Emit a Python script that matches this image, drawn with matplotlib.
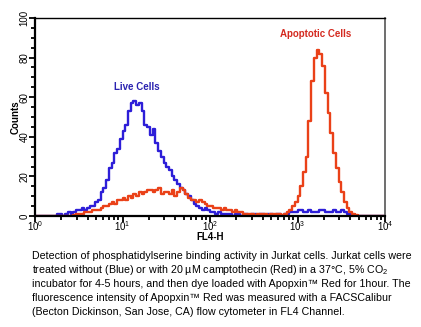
import numpy as np
import matplotlib
matplotlib.use('Agg')
import matplotlib.pyplot as plt
from matplotlib.ticker import LogLocator, MultipleLocator

plt.rcParams['font.family'] = ['Liberation Sans', 'DejaVu Sans']
plt.rcParams['mathtext.fontset'] = 'custom'
plt.rcParams['mathtext.rm'] = 'Liberation Sans'
plt.rcParams['mathtext.it'] = 'Liberation Sans'
plt.rcParams['mathtext.bf'] = 'Liberation Sans:bold'

# FL4-H histogram, 32 channels per decade from 10^0 to 10^4
live_counts = [
    0, 0, 0, 0, 0, 0, 0, 0, 1, 1, 0, 1, 2, 1, 2, 3,
    3, 4, 3, 4, 5, 5, 7, 8, 12, 14, 18, 24, 27, 32, 34, 39,
    43, 46, 53, 57, 58, 56, 57, 53, 46, 45, 41, 44, 37, 33, 30, 27,
    25, 23, 20, 18, 16, 14, 13, 11, 10, 8, 6, 5, 4, 3, 4, 3,
    2, 2, 1, 2, 1, 1, 1, 1, 0, 1, 1, 0, 1, 1, 0, 1,
    1, 0, 1, 1, 0, 1, 1, 0, 1, 1, 0, 1, 1, 2, 2, 2,
    3, 3, 2, 2, 3, 2, 2, 2, 3, 3, 2, 2, 2, 3, 2, 2,
    3, 2, 1, 1, 0, 0, 0, 0, 0, 0, 0, 0, 0, 0, 0, 0,
]
apoptotic_counts = [
    0, 0, 0, 0, 0, 0, 0, 0, 0, 0, 0, 0, 0, 0, 0.5, 1,
    1, 1, 2, 2, 2, 3, 3, 3, 4, 5, 5, 6, 7, 6, 8, 8,
    9, 8, 10, 9, 11, 10, 12, 11, 12, 13, 13, 12, 13, 14, 11, 12,
    12, 11, 13, 10, 12, 14, 13, 11, 9, 8, 8, 7, 8, 7, 6, 5,
    5, 4, 4, 4, 3, 4, 3, 3, 2, 3, 2, 2, 1, 1, 1, 1,
    0.5, 1, 1, 1, 1, 0.5, 1, 1, 1, 1, 0.5, 1, 2, 3, 5, 7,
    10, 15, 22, 30, 48, 68, 80, 84, 82, 76, 62, 52, 42, 32, 24, 17,
    12, 7, 4, 2, 1, 0.5, 0, 0, 0, 0, 0, 0, 0, 0, 0, 0,
]
edges = np.logspace(0, 4, len(live_counts) + 1)
centers = np.sqrt(edges[:-1] * edges[1:])

caption = [
    "Detection of phosphatidylserine binding activity in Jurkat cells. Jurkat cells were",
    "treated without (Blue) or with 20 \u00b5M camptothecin (Red) in a 37\u00b0C, 5% CO$_2$",
    "incubator for 4-5 hours, and then dye loaded with Apopxin\u2122 Red for 1hour. The",
    "fluorescence intensity of Apopxin\u2122 Red was measured with a FACSCalibur",
    "(Becton Dickinson, San Jose, CA) flow cytometer in FL4 Channel.",
]

fig = plt.figure(figsize=(4.21, 3.27), dpi=100)
ax = fig.add_axes([35 / 421, 111 / 327, 350 / 421, 198 / 327])

ax.plot(centers, live_counts, color='#2d1ed8', lw=1.7, drawstyle='steps-mid')
ax.plot(centers, apoptotic_counts, color='#ea4118', lw=1.7, drawstyle='steps-mid')

ax.set_xscale('log')
ax.set_xlim(1, 1e4)
ax.set_ylim(0, 100)

ax.xaxis.set_minor_locator(LogLocator(base=10, subs=np.arange(2, 10), numticks=20))
ax.set_xticks([1, 10, 100, 1000, 10000])
ax.set_xticklabels(['$10^0$', '$10^1$', '$10^2$', '$10^3$', '$10^4$'])
ax.yaxis.set_major_locator(MultipleLocator(20))
ax.yaxis.set_minor_locator(MultipleLocator(5))
for lab in ax.get_yticklabels():
    lab.set_rotation(90)
    lab.set_va('center')

ax.tick_params(axis='both', which='both', direction='out', width=1.3, colors='black',
               labelsize=7)
ax.tick_params(axis='both', which='major', length=4)
ax.tick_params(axis='both', which='minor', length=3)
ax.tick_params(axis='y', which='major', pad=0)
ax.tick_params(axis='x', which='major', labelsize=7, pad=-1.5)

for s in ['left', 'bottom']:
    ax.spines[s].set_linewidth(1.6)
ax.spines['top'].set_linewidth(1.0)
ax.spines['right'].set_linewidth(1.2)
ax.spines['right'].set_color('#555555')

ax.set_xlabel('FL4-H', fontsize=7, fontweight='bold', va='center')
ax.xaxis.set_label_coords(0.5, -0.108)
ax.set_ylabel('Counts', fontsize=7, fontweight='bold', va='center')
ax.yaxis.set_label_coords(-0.055, 0.5)

ax.text(14.6, 65, 'Live Cells', color='#2a22b0', fontsize=7, fontweight='bold',
        ha='center', va='center')
ax.text(1600, 92, 'Apoptotic Cells', color='#d42a20', fontsize=7, fontweight='bold',
        ha='center', va='center')

for k, line in enumerate(caption):
    fig.text(32 / 421, 1 - (256 + 14 * k) / 327, line, fontsize=7.7,
             ha='left', va='center')

fig.savefig('out.png', dpi=100)
